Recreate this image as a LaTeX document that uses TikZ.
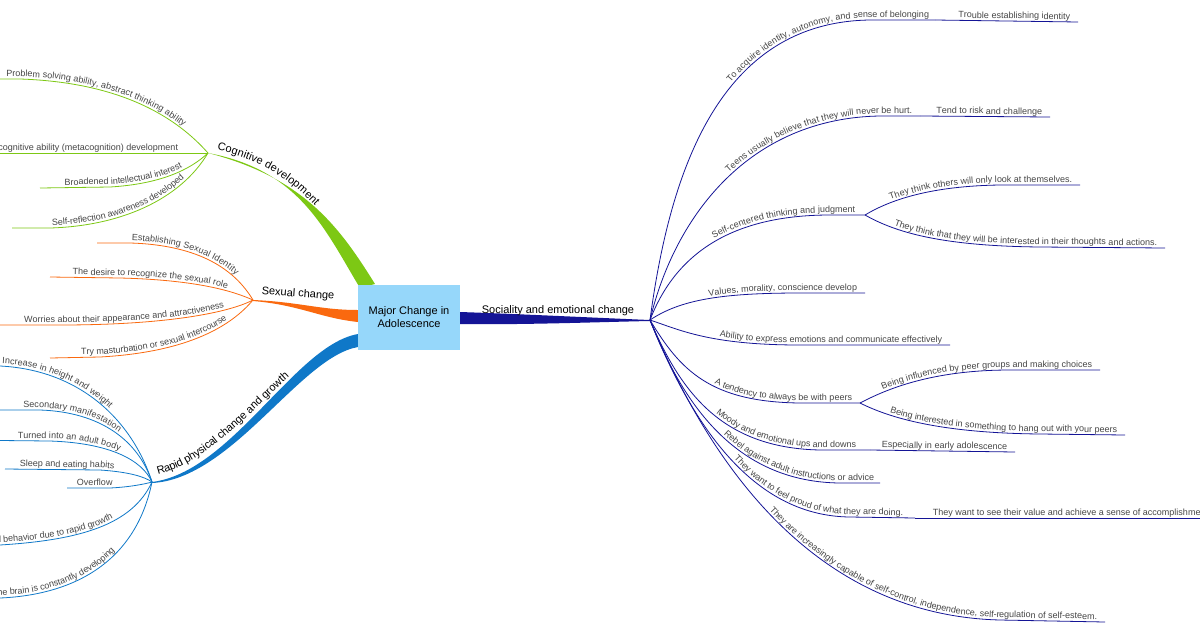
\documentclass[tikz,border=0pt]{standalone}
\usepackage{fontspec}
\setmainfont{Liberation Sans}
\usetikzlibrary{decorations.text}
\definecolor{cg}{RGB}{125,200,20}
\definecolor{co}{RGB}{250,105,15}
\definecolor{cb}{RGB}{15,120,200}
\definecolor{cn}{RGB}{20,20,150}
\definecolor{txt}{RGB}{70,70,70}
\definecolor{boxc}{RGB}{150,215,250}
\newcommand\lf{\fontsize{9}{11}\selectfont}
\newcommand\mf{\fontsize{11}{13}\selectfont}
\tikzset{leafline/.style={line width=0.8pt},
 mainlbl/.style={font=\mf,text=black}}
\newcommand\leaf[4]{\draw[#1,leafline,postaction={decorate,decoration={text along path,raise=2.5pt,text color=txt,text align={align=right,right indent=#3},text={|\lf|#4}}}] #2;}
\newcommand\mainl[3]{\path[postaction={decorate,decoration={text along path,raise=#2,text color=black,text align={align=left,left indent=8pt},text={|\mf|#3}}}] #1;}
\begin{document}
\begin{tikzpicture}[x=1pt,y=1pt]
\useasboundingbox[fill=white] (0,0) rectangle (1200,-630);
\coordinate (H1) at (208,-153);
\coordinate (H2) at (253,-300);
\coordinate (H3) at (152,-482);
\coordinate (H4) at (650,-320);
% main branches
\fill[cg] (H1) .. controls (300,-170) and (325,-230) .. (360,-288) -- (375,-284) .. controls (340,-228) and (305,-178) .. (H1) -- cycle;
\fill[co] (H2) .. controls (300,-302) and (320,-310) .. (358,-310) -- (358,-322) .. controls (320,-318) and (300,-305) .. (253,-301) -- cycle;
\fill[cb] (H3) .. controls (232,-472) and (295,-345) .. (358,-334) -- (358,-347) .. controls (300,-357) and (232,-479) .. (152,-483) -- cycle;
\fill[cn] (460,-312) .. controls (520,-314) and (600,-318) .. (H4) -- (650,-321) .. controls (600,-322) and (520,-325) .. (460,-324) -- cycle;
\mainl{(H1) .. controls (300,-172) and (330,-230) .. (366,-287)}{5pt}{Cognitive development}
\mainl{(H3) .. controls (230,-470) and (300,-350) .. (360,-338)}{6pt}{Rapid physical change and growth}
\node[mainlbl,rotate=-4] (sx) at (298,-294) {Sexual change};
\node[mainlbl] (so) at (558,-311) {Sociality and emotional change};
% center
\node[fill=boxc,minimum width=102pt,minimum height=65pt,align=center,font=\mf,text=black,inner sep=0pt] (c) at (409,-317.5) {Major Change in\\Adolescence};
% cognitive leaves
\leaf{cg}{(-250,-78) -- (20,-79) .. controls (110,-82) and (170,-110) .. (H1)}{36pt}{Problem solving ability, abstract thinking ability}
\leaf{cg}{(-250,-153) -- (H1)}{30pt}{Metacognitive ability (metacognition) development}
\leaf{cg}{(40,-188) -- (110,-187) .. controls (160,-184) and (190,-170) .. (H1)}{30pt}{Broadened intellectual interest}
\leaf{cg}{(12,-228) -- (50,-228) .. controls (120,-226) and (180,-200) .. (H1)}{35pt}{Self-reflection awareness developed}
% sexual leaves
\leaf{co}{(97,-243) -- (130,-243) .. controls (200,-245) and (235,-270) .. (H2)}{30pt}{Establishing Sexual Identity}
\leaf{co}{(50,-277) -- (120,-278) .. controls (200,-280) and (235,-292) .. (H2)}{28pt}{The desire to recognize the sexual role}
\leaf{co}{(-100,-325) -- (60,-325) .. controls (170,-325) and (230,-312) .. (H2)}{30pt}{Worries about their appearance and attractiveness}
\leaf{co}{(50,-358) -- (100,-357) .. controls (190,-352) and (232,-325) .. (H2)}{33pt}{Try masturbation or sexual intercourse}
% physical leaves
\leaf{cb}{(-200,-365) -- (0,-366) .. controls (80,-370) and (132,-420) .. (H3)}{85pt}{Increase in height and weight}
\leaf{cb}{(-50,-410) -- (40,-410) .. controls (100,-412) and (138,-440) .. (H3)}{60pt}{Secondary manifestation}
\leaf{cb}{(-50,-440) -- (50,-441) .. controls (110,-443) and (142,-460) .. (H3)}{45pt}{Turned into an adult body}
\leaf{cb}{(5,-469) -- (100,-470) .. controls (130,-472) and (145,-477) .. (H3)}{40pt}{Sleep and eating habits}
\leaf{cb}{(67,-488) -- (110,-488) .. controls (130,-487) and (145,-484) .. (H3)}{40pt}{Overflow}
\leaf{cb}{(-200,-545) -- (0,-545) .. controls (80,-540) and (132,-525) .. (H3)}{55pt}{Awkward behavior due to rapid growth}
\leaf{cb}{(-200,-598) -- (0,-598) .. controls (70,-595) and (135,-565) .. (H3)}{80pt}{The brain is constantly developing}
% social leaves
\coordinate (A1) at (935,-20);
\coordinate (A2) at (920,-116);
\coordinate (A3) at (865,-215);
\coordinate (A6) at (860,-403);
\coordinate (A7) at (870,-450);
\coordinate (A9) at (915,-518);
\leaf{cn}{(H4) .. controls (670,-170) and (720,-22) .. (870,-20) -- (A1)}{6pt}{To acquire identity, autonomy, and sense of belonging}
\leaf{cn}{(A1) -- (1078,-22)}{8pt}{Trouble establishing identity}
\leaf{cn}{(H4) .. controls (675,-215) and (750,-118) .. (880,-116) -- (A2)}{8pt}{Teens usually believe that they will never be hurt.}
\leaf{cn}{(A2) -- (1050,-117)}{8pt}{Tend to risk and challenge}
\leaf{cn}{(H4) .. controls (675,-255) and (730,-215) .. (830,-215) -- (A3)}{10pt}{Self-centered thinking and judgment}
\leaf{cn}{(A3) .. controls (890,-200) and (930,-186) .. (1000,-185) -- (1080,-185)}{8pt}{They think others will only look at themselves.}
\leaf{cn}{(A3) .. controls (895,-232) and (940,-246) .. (1040,-247) -- (1165,-248)}{8pt}{They think that they will be interested in their thoughts and actions.}
\leaf{cn}{(H4) .. controls (680,-300) and (720,-293) .. (800,-293) -- (865,-293)}{8pt}{Values, morality, conscience develop}
\leaf{cn}{(H4) .. controls (680,-330) and (710,-345) .. (800,-345) -- (950,-345)}{8pt}{Ability to express emotions and communicate effectively}
\leaf{cn}{(H4) .. controls (680,-370) and (710,-402) .. (800,-403) -- (A6)}{8pt}{A tendency to always be with peers}
\leaf{cn}{(A6) .. controls (885,-390) and (930,-370) .. (1010,-370) -- (1100,-370)}{8pt}{Being influenced by peer groups and making choices}
\leaf{cn}{(A6) .. controls (890,-418) and (940,-433) .. (1040,-434) -- (1125,-435)}{8pt}{Being interested in something to hang out with your peers}
\leaf{cn}{(H4) .. controls (680,-390) and (720,-448) .. (820,-450) -- (A7)}{14pt}{Moody and emotional ups and downs}
\leaf{cn}{(A7) -- (1015,-452)}{8pt}{Especially in early adolescence}
\leaf{cn}{(H4) .. controls (685,-410) and (740,-482) .. (840,-483) -- (880,-483)}{6pt}{Rebel against adult instructions or advice}
\leaf{cn}{(H4) .. controls (690,-420) and (750,-516) .. (850,-517) -- (A9)}{12pt}{They want to feel proud of what they are doing.}
\leaf{cn}{(A9) -- (1208,-518)}{0pt}{They want to see their value and achieve a sense of accomplishment}
\leaf{cn}{(H4) .. controls (700,-440) and (800,-615) .. (1000,-620) -- (1105,-622)}{8pt}{They are increasingly capable of self-control, independence, self-regulation of self-esteem.}
\end{tikzpicture}
\end{document}
